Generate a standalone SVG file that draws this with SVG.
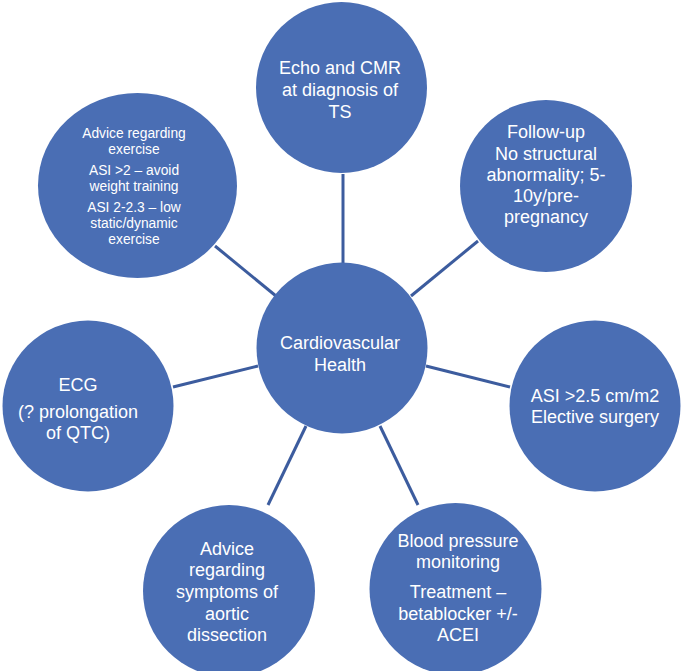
<svg xmlns="http://www.w3.org/2000/svg" width="685" height="671" viewBox="0 0 685 671">
<style>
.n{fill:#4a6eb4}
.t{font-family:"Liberation Sans",Arial,sans-serif;font-size:18px;fill:#ffffff;text-anchor:middle}
.s{font-size:13.8px}
.c line{stroke:#3c5c9e;stroke-width:3;stroke-linecap:butt}
</style>
<rect width="685" height="671" fill="#ffffff"/>
<g class="c" id="connectors">
<line x1="343" y1="174" x2="343" y2="263"/>
<line x1="478" y1="241" x2="411" y2="296"/>
<line x1="215" y1="246" x2="276" y2="296"/>
<line x1="173" y1="387" x2="258" y2="366"/>
<line x1="510" y1="387" x2="426" y2="366"/>
<line x1="306" y1="426" x2="268" y2="505"/>
<line x1="380" y1="426" x2="418" y2="505"/>
</g>
<g id="center">
<circle class="n" cx="342" cy="348" r="85.5"/>
<text class="t" x="340" y="349">Cardiovascular</text>
<text class="t" x="340" y="371">Health</text>
</g>
<g id="echo">
<circle class="n" cx="341.5" cy="87.5" r="85.5"/>
<text class="t" x="340" y="74">Echo and CMR</text>
<text class="t" x="340" y="96">at diagnosis of</text>
<text class="t" x="340" y="118">TS</text>
</g>
<g id="followup">
<circle class="n" cx="546" cy="186" r="86"/>
<text class="t" x="546" y="138">Follow-up</text>
<text class="t" x="546" y="160">No structural</text>
<text class="t" x="546" y="181">abnormality; 5-</text>
<text class="t" x="546" y="202">10y/pre-</text>
<text class="t" x="546" y="223">pregnancy</text>
</g>
<g id="exercise">
<ellipse class="n" cx="137.5" cy="185.5" rx="99.5" ry="92.5"/>
<text class="t s" x="134" y="138">Advice regarding</text>
<text class="t s" x="134" y="154">exercise</text>
<text class="t s" x="134" y="175">ASI &gt;2 – avoid</text>
<text class="t s" x="134" y="191">weight training</text>
<text class="t s" x="134" y="212">ASI 2-2.3 – low</text>
<text class="t s" x="134" y="228">static/dynamic</text>
<text class="t s" x="134" y="244">exercise</text>
</g>
<g id="ecg">
<circle class="n" cx="88" cy="406" r="85.5"/>
<text class="t" x="78" y="391">ECG</text>
<text class="t" x="78" y="418">(? prolongation</text>
<text class="t" x="78" y="439">of QTC)</text>
</g>
<g id="asi">
<circle class="n" cx="595" cy="406" r="85.5"/>
<text class="t" x="595" y="402">ASI &gt;2.5 cm/m2</text>
<text class="t" x="595" y="423">Elective surgery</text>
</g>
<g id="dissection">
<circle class="n" cx="229" cy="591" r="86"/>
<text class="t" x="227" y="555">Advice</text>
<text class="t" x="227" y="576">regarding</text>
<text class="t" x="227" y="598">symptoms of</text>
<text class="t" x="227" y="620">aortic</text>
<text class="t" x="227" y="641">dissection</text>
</g>
<g id="bloodpressure">
<circle class="n" cx="455.5" cy="589" r="86"/>
<text class="t" x="458" y="547">Blood pressure</text>
<text class="t" x="458" y="568">monitoring</text>
<text class="t" x="458" y="598">Treatment –</text>
<text class="t" x="458" y="620">betablocker +/-</text>
<text class="t" x="458" y="641">ACEI</text>
</g>
</svg>
